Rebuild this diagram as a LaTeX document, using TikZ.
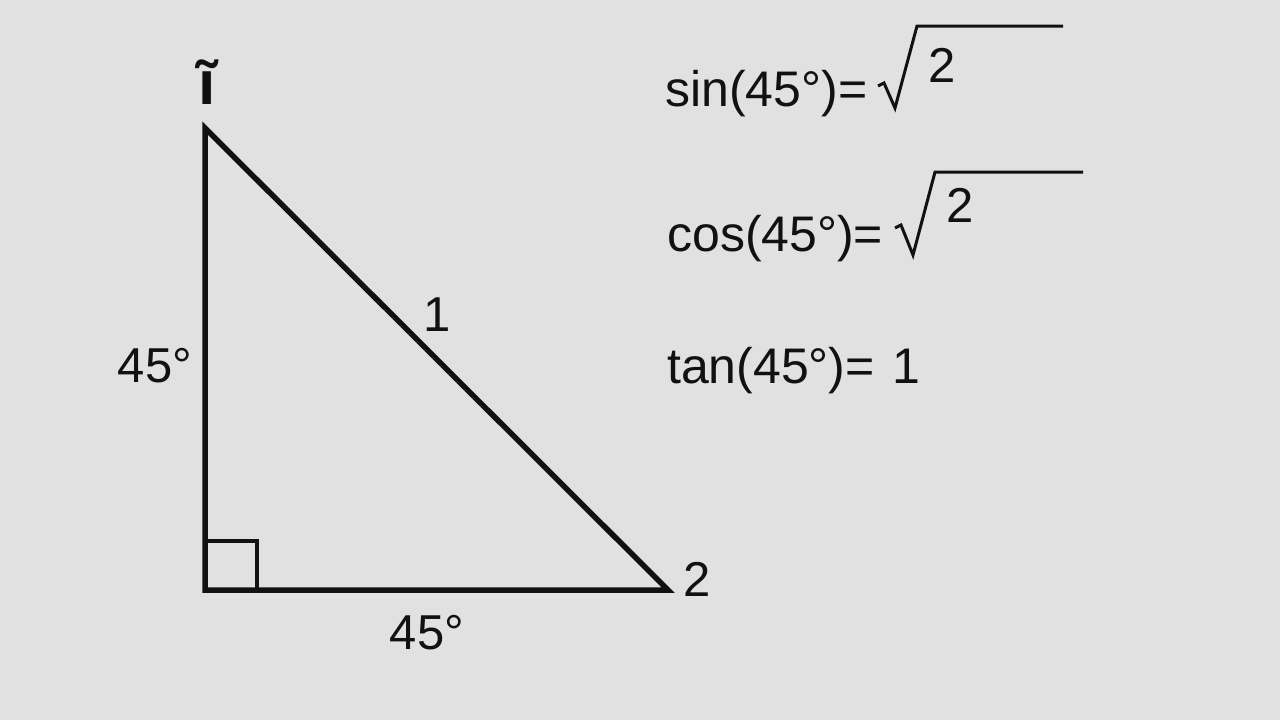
\documentclass[tikz,border=0pt]{standalone}
\usepackage{fontspec}
\setmainfont{Liberation Sans}
\definecolor{bg}{HTML}{E1E1E1}
\definecolor{ink}{HTML}{111111}
\begin{document}
\begin{tikzpicture}[x=1pt,y=-1pt,
  edge/.style={draw=ink,line width=5.5pt,line join=miter},
  lbl/.style={text=ink,inner sep=0pt,font=\fontsize{49}{56}\selectfont},
  eq/.style={text=ink,inner sep=0pt,anchor=base west,font=\fontsize{50}{58}\selectfont},
  rad/.style={draw=ink,line width=3pt,line join=miter}]
\useasboundingbox[fill=bg] (0,0) rectangle (1280,720);
% triangle
\coordinate (A) at (205,128);
\coordinate (B) at (205,590);
\coordinate (C) at (668,590);
\draw[edge] (A) -- (B) -- (C) -- cycle;
\coordinate (S1) at (205,541);
\coordinate (S2) at (257,541);
\coordinate (S3) at (257,590);
\draw[edge,line width=4.5pt] (S1) -- (S2) -- (S3);
% labels
\node[lbl,font=\fontsize{62}{70}\selectfont\bfseries] (top) at (207,82) {ĩ};
\node[lbl] (left) at (155,366) {45°};
\node[lbl] (bottom) at (427,633) {45°};
\node[lbl] (hyp) at (437,315) {1};
\node[lbl] (corner) at (697,579) {2};
% equations
\node[eq] (sin) at (665,106) {sin(45°)=};
\draw[rad] (878,86) -- (884,83) -- (895,108) -- (917,26) -- (1063,26);
\node[lbl] (sin2) at (942,65) {2};
\node[eq] (cos) at (667,251) {cos(45°)=};
\draw[rad] (895,228) -- (901,225) -- (913,255) -- (935,172) -- (1083,172);
\node[lbl] (cos2) at (960,205) {2};
\node[eq] (tan) at (667,383) {tan(45°)=\kern0.35em 1};
\end{tikzpicture}
\end{document}
